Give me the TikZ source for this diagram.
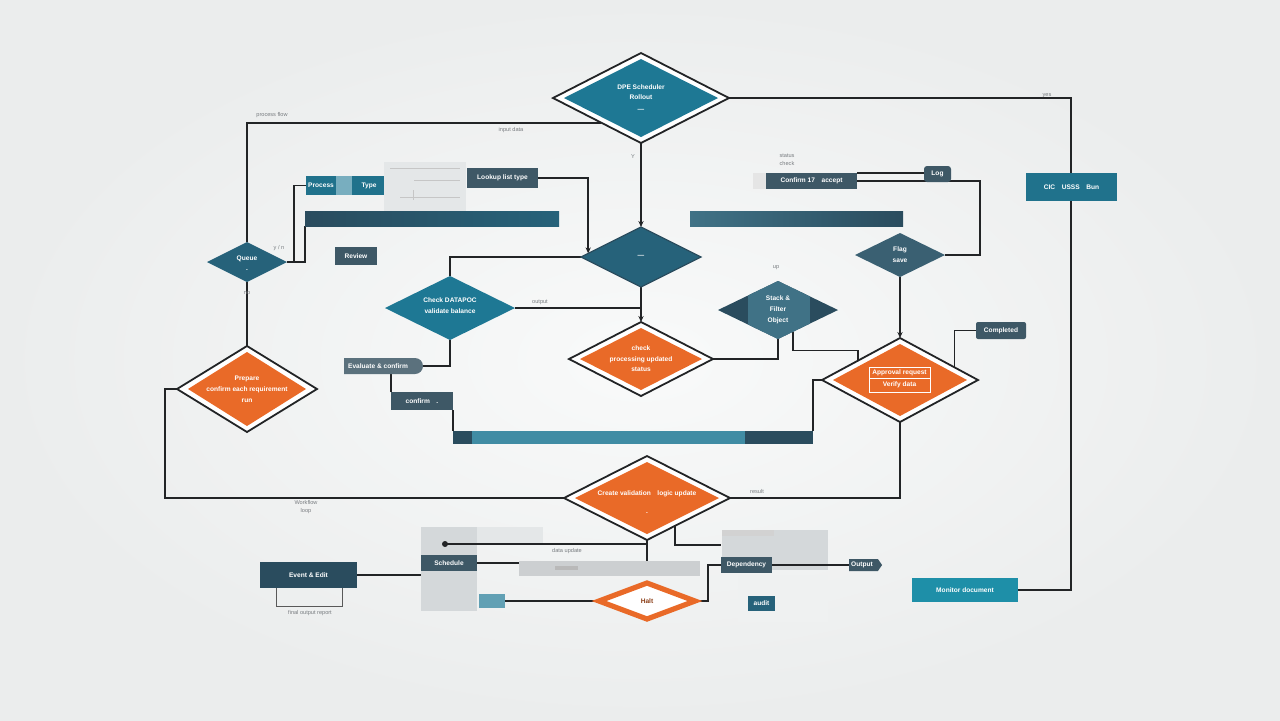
\documentclass[tikz,border=0pt]{standalone}
\usepackage{fontspec}
\setmainfont{Liberation Sans}
\usetikzlibrary{shapes.geometric,shapes.symbols,shapes.misc,arrows.meta,calc}
\definecolor{bgin}{RGB}{249,250,250}
\definecolor{bgout}{RGB}{235,237,237}
\definecolor{lineC}{RGB}{34,36,38}
\definecolor{tealA}{RGB}{30,120,148}
\definecolor{tealB}{RGB}{38,98,122}
\definecolor{tealC}{RGB}{58,96,114}
\definecolor{tealD}{RGB}{42,76,94}
\definecolor{tealL}{RGB}{64,114,134}
\definecolor{orangeA}{RGB}{233,106,40}
\definecolor{boxDark}{RGB}{62,88,102}
\definecolor{boxTeal}{RGB}{32,114,140}
\definecolor{boxBright}{RGB}{30,143,168}
\definecolor{panelA}{RGB}{212,216,218}
\definecolor{panelB}{RGB}{228,231,232}
\definecolor{lblC}{RGB}{120,124,128}
\pgfdeclarelayer{back}\pgfdeclarelayer{wires}
\pgfsetlayers{back,wires,main}
\newcommand\txtfont{\fontsize{3.3}{4}\selectfont\bfseries}
\newcommand\lblfont{\fontsize{2.8}{3.3}\selectfont}
\newcommand\fdia[8]{%
  \node[frameD, minimum width=#4, minimum height=#5] (#1) at (#2,#3) {};
  \node[dia, fill=#8, minimum width=#6, minimum height=#7] (#1i) at (#2,#3) {};}
\tikzset{
 frameD/.style={diamond, draw=lineC, line width=0.9pt, fill=white, inner sep=0pt, outer sep=0pt},
 dia/.style={diamond, inner sep=0pt, outer sep=0pt},
 dtext/.style={inner sep=0pt, align=center, text=white, font=\txtfont},
 box/.style={rectangle, inner sep=0pt, outer sep=0pt, align=center, text=white, font=\txtfont},
 conn/.style={draw=lineC, line width=0.8pt},
 arr/.style={conn, -{Stealth[length=3pt,width=2.6pt]}},
 lbl/.style={inner sep=0pt, text=lblC, font=\lblfont, align=center},
}
\begin{document}
\begin{tikzpicture}[x=0.5pt,y=-0.5pt]
\begin{pgfonlayer}{back}
\shade[inner color=bgin, outer color=bgout] (0,0) rectangle (1280,720);
% light panels
\fill[panelB] (384,162) rectangle (466,215);
\draw[gray!45, line width=0.3pt] (390,168) -- (460,168) (414,180) -- (460,180) (400,197) -- (460,197) (413,190) -- (413,200);
\fill[panelA] (421,527) rectangle (477,611);
\fill[panelB] (477,527) rectangle (543,545);
\fill[panelA] (722,530) rectangle (828,570);
\fill[gray!35] (722,530) rectangle (774,536);
\fill[panelB!60!white] (738,575) rectangle (828,622);
\fill[gray!20] (753,173) rectangle (766,189);
\end{pgfonlayer}
\useasboundingbox (0,0) rectangle (1280,720);

% diamonds
\fdia{D1}{641}{98}{88pt}{45pt}{77pt}{39pt}{tealA}
\node[dtext] (D1t) at (641,98) {DPE Scheduler\\[1pt]Rollout\\[2pt]---};
\fdia{D8}{247}{389}{70pt}{43pt}{59pt}{37pt}{orangeA}
\node[dtext] (D8t) at (247,389) {Prepare\\[1.5pt]confirm each requirement\\[1.5pt]run};
\fdia{D7}{641}{359}{72pt}{37pt}{61pt}{31pt}{orangeA}
\node[dtext] (D7t) at (641,359) {check\\[1.5pt]processing updated\\[1pt]status};
\fdia{D9}{900}{380}{78pt}{42pt}{67pt}{36pt}{orangeA}
\fdia{D10}{647}{498}{83pt}{42pt}{72pt}{36pt}{orangeA}
\node[dtext] (D10t) at (647,502) {Create validation\quad logic update\\[5pt].};
\node[dia, fill=tealB, minimum width=40pt, minimum height=20pt] (D2) at (247,262) {};
\node[dtext] (D2t) at (247,263) {Queue\\[1pt].};
\node[dia, fill=tealB, draw=tealD, line width=0.6pt, minimum width=60pt, minimum height=30pt] (D3) at (641,257) {};
\node[dtext] (D3t) at (641,256) {---};
\node[dia, fill=tealC, minimum width=45pt, minimum height=22pt] (D4) at (900,255) {};
\node[dtext] (D4t) at (900,255) {Flag\\[1.5pt]save};
\node[dia, fill=tealA, minimum width=65pt, minimum height=32pt] (D5) at (450,308) {};
\node[dtext] (D5t) at (450,306) {Check DATAPOC\\[1.5pt]validate balance};
\node[dia, fill=tealD, minimum width=60pt, minimum height=29pt] (D6) at (778,310) {};
\begin{scope}
\clip (D6.north) -- (D6.east) -- (D6.south) -- (D6.west) -- cycle;
\fill[tealL] (748,280) rectangle (810,340);
\end{scope}
\node[dtext] (D6t) at (778,310) {Stack \&\\[1.5pt]Filter\\[1.5pt]Object};
\node[diamond, draw=orangeA, line width=2.6pt, fill=white, minimum width=48pt, minimum height=18pt, inner sep=0pt, outer sep=0pt] (D11) at (647,601) {};
\node[dtext, text=orangeA!60!black] (D11t) at (647,601) {Halt};
% D9 inner frame
\draw[white, line width=0.45pt] (869,367) rectangle (930,392);
\draw[white, line width=0.35pt] (869,378) -- (930,378);
\node[dtext] (D9a) at (899.5,372.5) {Approval request};
\node[dtext] (D9b) at (899.5,385) {Verify data};

% boxes
\node[box, fill=boxTeal, minimum width=45.5pt, minimum height=14pt] (R1) at (1071.5,187) {CIC\quad USSS\quad Bun};
\node[box, fill=boxTeal, minimum width=39pt, minimum height=9.5pt] (R2) at (345,185.5) {};
\fill[tealA!60!white] (336,176) rectangle (352,195);
\node[dtext] (R2a) at (321,185.5) {Process};
\node[dtext] (R2b) at (369,185.5) {Type};
\node[box, fill=boxDark, minimum width=35.5pt, minimum height=10pt] (R3) at (502.5,178) {Lookup list type};
\node[box, left color=tealD, middle color=tealL, right color=tealB, minimum width=127pt, minimum height=7.5pt] (B1) at (432,218.5) {};
\node[box, left color=tealL, middle color=tealA!80!black, right color=tealD, minimum width=106.5pt, minimum height=7.5pt] (B2) at (796.5,218.5) {};
\node[box, fill=boxDark, minimum width=21pt, minimum height=9pt] (R11) at (356,256) {Review};
\node[box, fill=boxDark, minimum width=45.5pt, minimum height=8pt] (R4) at (811.5,181) {Confirm 17\quad accept};
\node[box, fill=boxDark, rounded corners=1.5pt, minimum width=13.5pt, minimum height=8pt] (T2) at (937.5,174) {Log};
\node[box, fill=boxDark, rounded corners=1pt, minimum width=25pt, minimum height=8.5pt] (R6) at (1001,330.5) {Completed};
\node[rounded rectangle, rounded rectangle left arc=none, fill=boxDark!85!white, inner sep=0pt, outer sep=0pt, minimum width=39.5pt, minimum height=8pt] (T1) at (383.5,366) {};
\node[dtext] (T1t) at (378,366) {Evaluate \& confirm};
\node[box, fill=boxDark, minimum width=31pt, minimum height=9pt] (R5) at (422,401) {confirm\quad .};
\node[box, fill=tealA!85!white, minimum width=180pt, minimum height=6.5pt] (B3) at (633,437.5) {};
\fill[tealD] (B3.north west) rectangle ++(19,13);
\fill[tealD] (B3.south east) rectangle ++(-68,-13);
\node[box, fill=tealD, minimum width=48.5pt, minimum height=13pt] (R8) at (308.5,575) {Event \& Edit};
\node[box, fill=boxDark, minimum width=28pt, minimum height=8pt] (R9) at (449,563) {Schedule};
\node[box, fill=panelA!90!gray, minimum width=90.5pt, minimum height=7.5pt] (BarG) at (609.5,568.5) {};
\fill[gray!55] (555,566) rectangle (578,570);
\node[box, fill=tealA!70!white, minimum width=13pt, minimum height=7pt] (S1) at (492,601) {};
\node[box, fill=boxDark, minimum width=25.5pt, minimum height=8pt] (R10) at (746.5,565) {Dependency};
\node[signal, signal to=east, signal pointer angle=110, fill=boxDark, inner sep=0pt, outer sep=0pt, minimum width=16.5pt, minimum height=6pt] (T3) at (863.5,565) {};
\node[dtext] (T3t) at (862,565) {Output};
\node[box, fill=tealB, minimum width=13.5pt, minimum height=7.5pt] (S2) at (761.5,603.5) {audit};
\node[box, fill=boxBright, minimum width=53pt, minimum height=12pt] (R7) at (965,590) {Monitor document};

% small labels
\node[lbl] (L1) at (272,115) {process flow};
\node[lbl] (L2) at (511,130) {input data};
\node[lbl] (L3) at (787,160) {status\\[0.5pt]check};
\node[lbl] (L4) at (1047,96) {yes};
\node[lbl] (L5) at (540,302) {output};
\node[lbl] (L6) at (306,507) {Workflow\\[0.5pt]loop};
\node[lbl] (L7) at (310,613) {final output report};
\node[lbl] (L8) at (567,551) {data update};
\node[lbl] (L9) at (757,491) {result};
\node[lbl] (L10) at (633,157) {Y};
\node[lbl] (L11) at (279,248) {y / n};
\node[lbl] (L12) at (247,293) {no};
\node[lbl] (L13) at (776,268) {up};

% coordinates
\coordinate (k1) at (1071,590);
\coordinate (k2) at (445,544);
\coordinate (k3) at (721,545);

\begin{pgfonlayer}{wires}
\draw[conn] (D2.north) |- ($(D1.west)!0.55!(D1.south)$);
\draw[conn] (D1.east) -| (k1) -- (R7.east);
\draw[arr] (D1.south) -- (D3.north);
\draw[conn] (D2.south) -- (D8.north);
\draw[conn] (D2.east) -| (B1.south west);
\draw[conn] ($(D2.east)+(7,0)$) |- (R2.west);
\draw[arr] (R3.east) -| ($(D3.west)!0.12!(D3.north)$);
\draw[conn] (D5.north) |- (D3.west);
\draw[conn] (D5.east) -- (D5.east -| D3.south);
\draw[arr] (D3.south) -- (D7.north);
\draw[conn] (D7.east) -| (D6.south);
\draw[conn] (D5.south) |- (T1.east);
\draw[conn] (R5.north west) -- (R5.north west |- T1.south);
\draw[conn] (R5.south east) -- (B3.north west);
\draw[conn] ($(D6.east)!0.75!(D6.south)$) |- ($($(D9.west)!0.46!(D9.north)$)+(0,-10)$) -- ($(D9.west)!0.46!(D9.north)$);
\draw[conn] (B3.north east) |- (D9.west);
\draw[arr] (D4.south) -- (D9.north);
\draw[conn] (D9.south) |- (D10.east);
\draw[conn] ($(D9.north)!0.7!(D9.east)$) |- (R6.west);
\draw[conn] (R4.east) -| ($(D4.east)+(35,0)$) -- (D4.east);
\draw[conn] (R4.north east) -- (R4.north east -| T2.west);
\draw[conn] (D8.west) -- ++(-12,0) |- (D10.west);
\draw[conn] (D10.south) -- (D10.south |- BarG.north);
\draw[conn] (D10.south |- k2) -- (k2);
\fill[lineC] (k2) circle (3);
\draw[conn] ($(D10.south)!0.34!(D10.east)$) |- (k3);
\draw[conn] (R8.east) -- (R8.east -| R9.west);
\draw[conn] (R9.east) -- (R9.east -| BarG.west);
\draw[conn] (S1.east) -- (D11.west);
\draw[conn] (D11.east) -- ++(13,0) |- (R10.west);
\draw[conn] (R10.east) -- (T3.west);
\draw[gray!70!black, line width=0.4pt] ($(R8.south west)+(16,0)$) -- ++(0,18) -- ++(66,0) -- ++(0,-18);
\end{pgfonlayer}
\end{tikzpicture}
\end{document}
